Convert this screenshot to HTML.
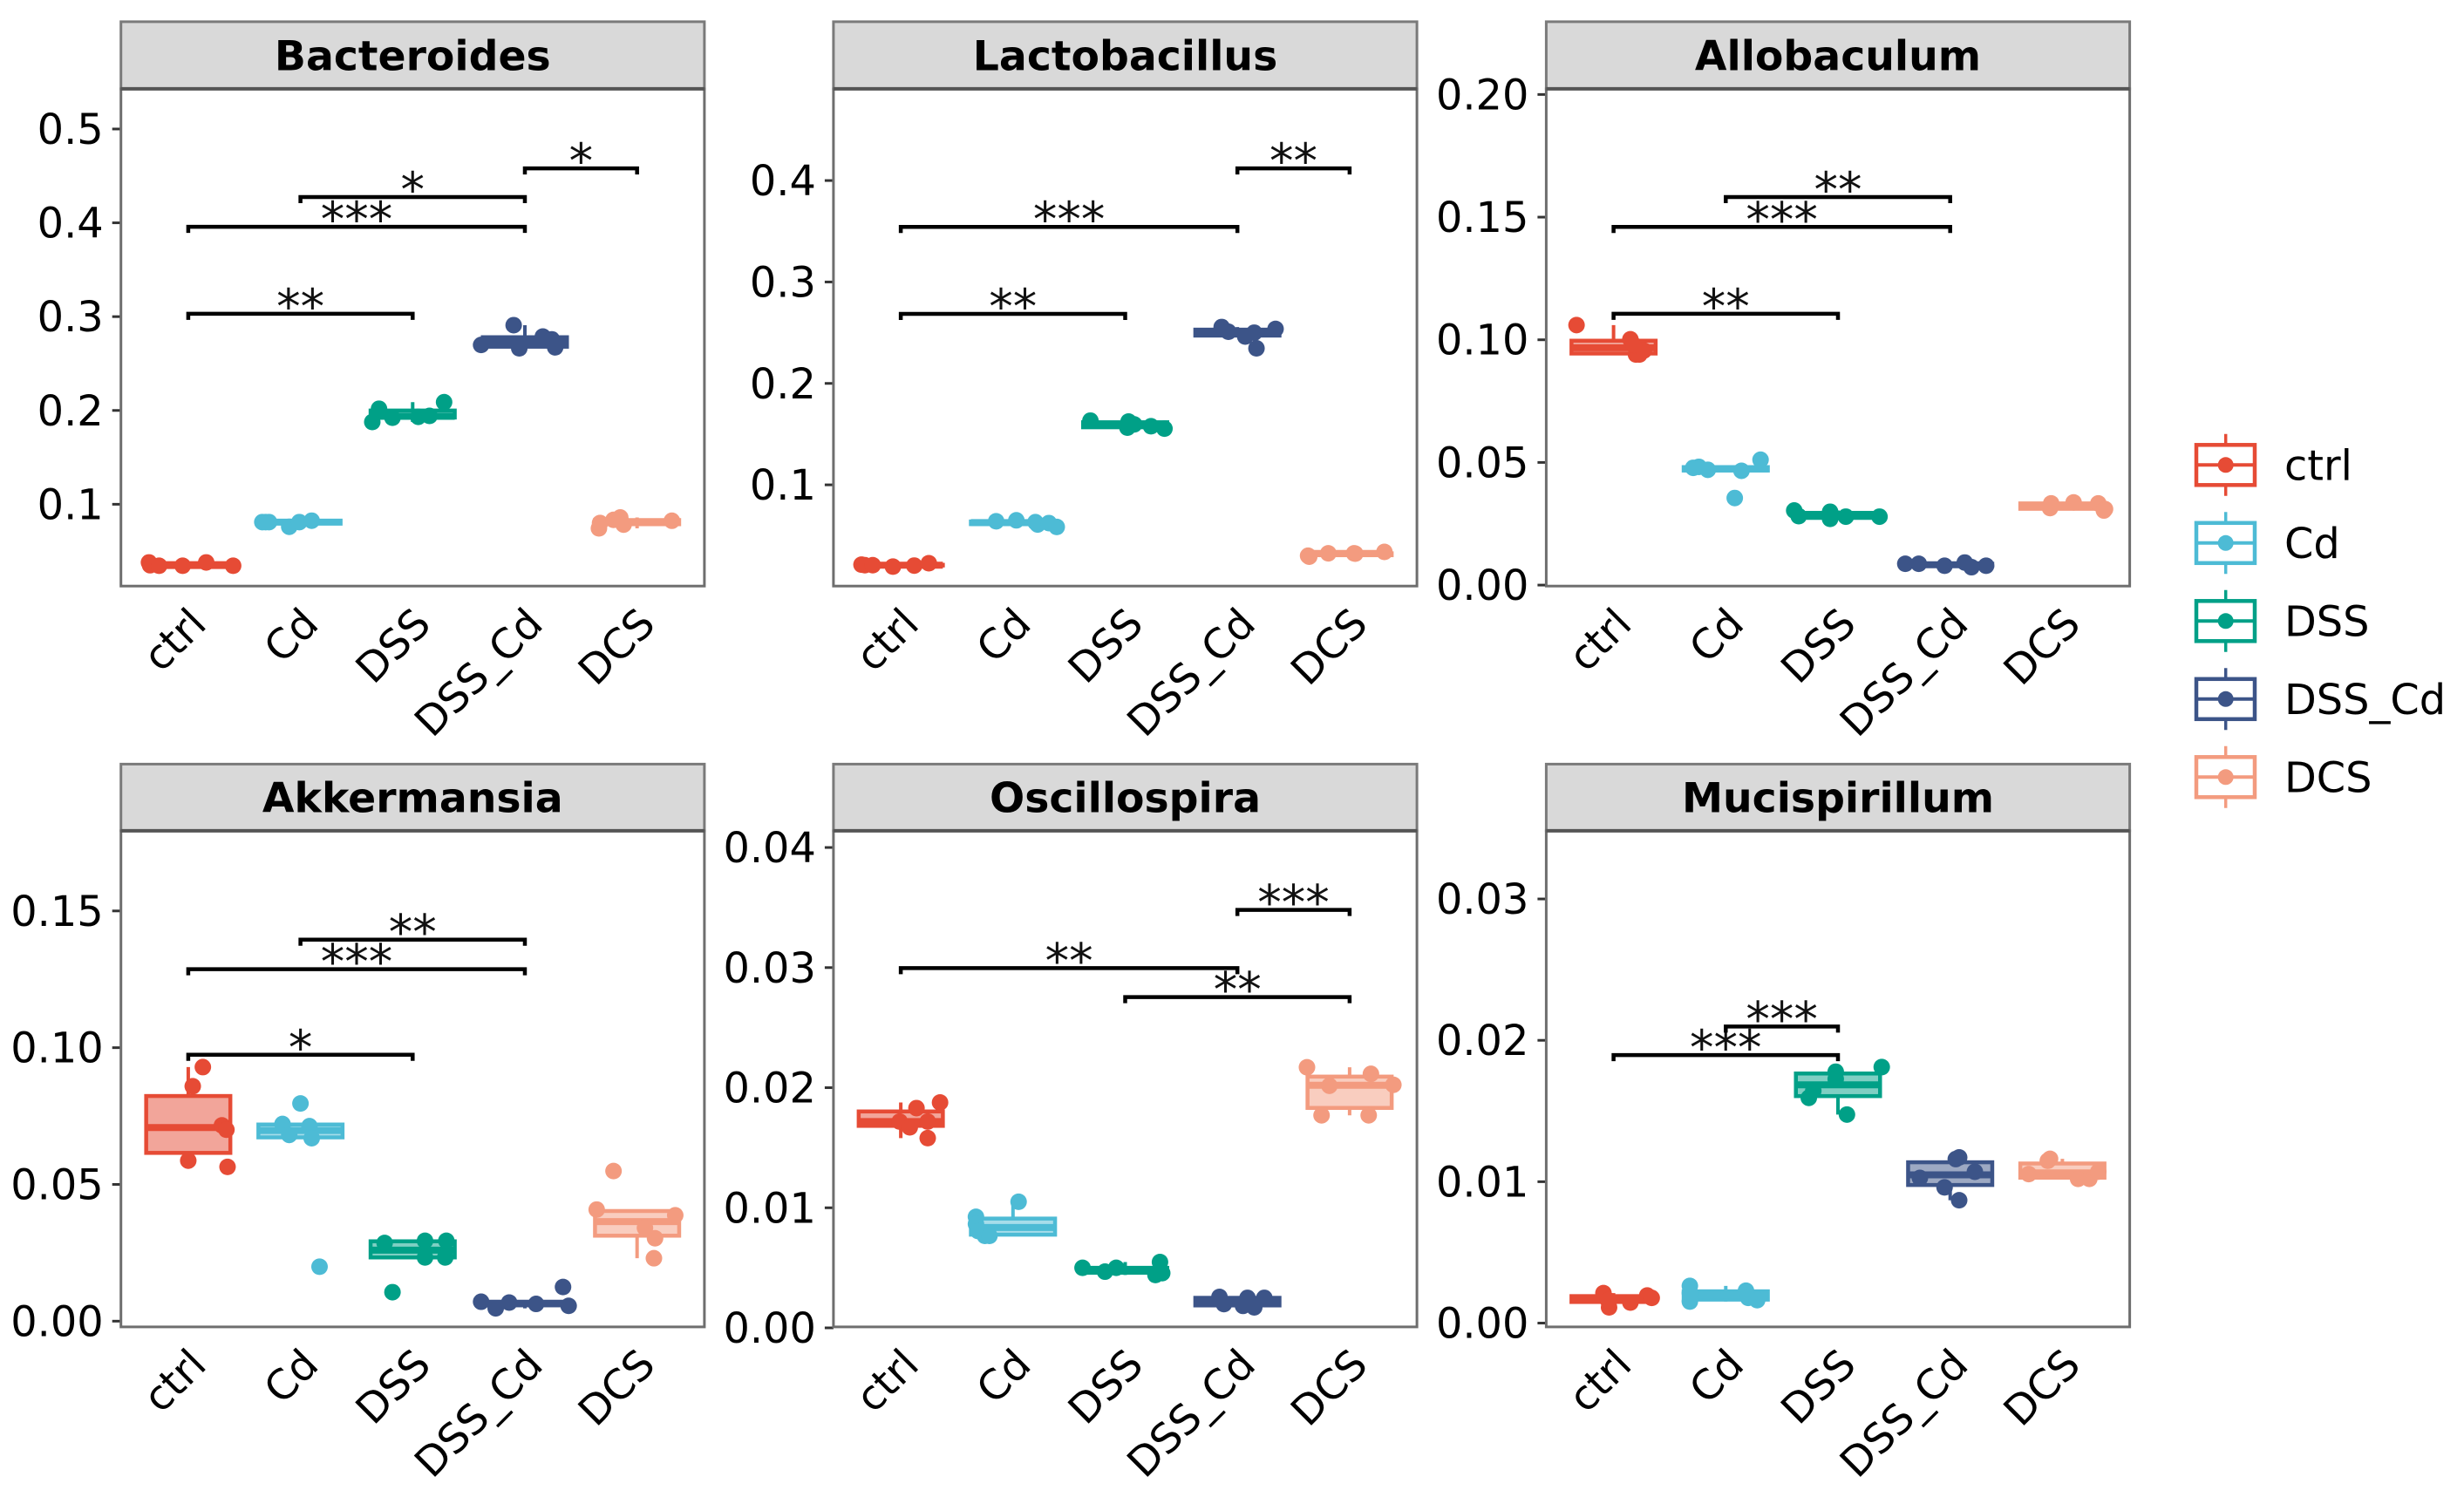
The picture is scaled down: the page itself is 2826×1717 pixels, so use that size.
<!DOCTYPE html>
<html lang="en">
<head>
<meta charset="utf-8">
<title>Genus relative abundance boxplots</title>
<style>
html,body{margin:0;padding:0;background:#fff;}
svg{display:block;font-family:"DejaVu Sans","Liberation Sans",sans-serif;}
</style>
</head>
<body>
<svg id="chart" xmlns="http://www.w3.org/2000/svg" width="2826" height="1717" viewBox="0 0 2826 1717">
<rect x="0" y="0" width="2826" height="1717" fill="#fff"/>
</svg>
<script>
const categories = ["ctrl", "Cd", "DSS", "DSS_Cd", "DCS"];
const groupColors = ["#E64B35", "#4DBBD5", "#00A087", "#3C5488", "#F39B7F"];

const bacteroidesValues = [
  [.038,.035,.0345,.0345,.038,.0345],
  [.081,.081,.081,.076,.081,.0825],
  [.1877,.2018,.1922,.1932,.1942,.2088],
  [.2698,.2909,.2662,.2788,.2758,.2673],
  [.0743,.0800,.0834,.0859,.0783,.0824]
];
const bacteroidesJitter = [
  [-.35,-.34,-.26,-.05,.16,.40],
  [-.34,-.31,-.28,-.10,-.01,.10],
  [-.36,-.30,-.18,.05,.15,.28],
  [-.39,-.10,-.05,.16,.24,.27],
  [-.34,-.33,-.21,-.15,-.12,.31]
];
const bacteroidesTicks = ["0.1","0.2","0.3","0.4","0.5"];
const bacteroidesDomain = [.0128,.5428];
const bacteroidesBrackets = [[0,2,.303,"**"],[0,3,.3957,"***"],[1,3,.4275,"*"],[3,4,.458,"*"]];

const lactobacillusValues = [
  [.0213,.0208,.0208,.0194,.0204,.0227],
  [.0641,.065,.0632,.0609,.0623,.0585],
  [.1633,.1624,.1564,.1578,.1554,.1596],
  [.2556,.2509,.2462,.25,.2346,.2537],
  [.0301,.0292,.0325,.0325,.0322,.0339]
];
const lactobacillusJitter = [
  [-.35,-.32,-.25,-.07,.12,.25],
  [-.15,.03,.20,.22,.32,.39],
  [-.31,.03,.02,.23,.35,.08],
  [-.14,-.08,.07,.15,.17,.34],
  [-.37,-.36,-.19,.04,.05,.31]
];
const lactobacillusTicks = ["0.1","0.2","0.3","0.4"];
const lactobacillusDomain = [.0002,.4904];
const lactobacillusBrackets = [[0,2,.2686,"**"],[0,3,.3543,"***"],[3,4,.412,"**"]];

const allobaculumValues = [
  [.106,.1002,.094,.094,.0956,.0979],
  [.0482,.047,.0355,.0466,.0511,.0478],
  [.0304,.0281,.0299,.027,.0279,.0279],
  [.0087,.0087,.0079,.0092,.0073,.0079],
  [.0333,.0337,.0314,.0333,.031,.0304]
];
const allobaculumJitter = [
  [-.33,.15,.20,.23,.27,.18],
  [-.24,-.16,.08,.14,.31,-.29],
  [-.39,-.35,-.07,-.07,.07,.37],
  [-.40,-.28,-.05,.13,.19,.32],
  [-.10,.10,-.11,.32,.38,.37]
];
const allobaculumTicks = ["0.00","0.05","0.10","0.15","0.20"];
const allobaculumDomain = [-.0004,.2023];
const allobaculumBrackets = [[0,2,.1106,"**"],[0,3,.146,"***"],[1,3,.1582,"**"]];

const akkermansiaValues = [
  [.0929,.0859,.0716,.07,.0587,.0564],
  [.0796,.0721,.0681,.0713,.0669,.0199],
  [.0286,.0106,.0294,.0233,.0294,.0233],
  [.0071,.0047,.0068,.0063,.0125,.0056],
  [.0549,.0408,.0387,.0341,.0303,.023]
];
const akkermansiaJitter = [
  [.13,.04,.30,.34,0,.35],
  [0,-.16,-.10,.08,.10,.17],
  [-.25,-.18,.11,.11,.30,.29],
  [-.39,-.26,-.14,.10,.34,.39],
  [-.21,-.36,.34,.07,.16,.15]
];
const akkermansiaTicks = ["0.00","0.05","0.10","0.15"];
const akkermansiaDomain = [-.0021,.1793];
const akkermansiaBrackets = [[0,2,.0974,"*"],[0,3,.1287,"***"],[1,3,.1395,"**"]];

const oscillospiraValues = [
  [.01877,.0183,.01718,.0167,.01718,.0158],
  [.0105,.00925,.00865,.00806,.00766,.00766],
  [.005,.00468,.005,.00548,.0044,.00456],
  [.00258,.00198,.00183,.0025,.00171,.0025],
  [.0217,.02115,.02016,.02024,.0177,.0177]
];
const oscillospiraJitter = [
  [.35,.14,-.01,.08,.24,.24],
  [.05,-.33,-.33,-.31,-.25,-.21],
  [-.38,-.18,-.08,.31,.27,.33],
  [-.16,-.12,.05,.09,.15,.24],
  [-.38,.19,-.18,.39,-.25,.17]
];
const oscillospiraTicks = ["0.00","0.01","0.02","0.03","0.04"];
const oscillospiraDomain = [.00008,.04139];
const oscillospiraBrackets = [[0,3,.02996,"**"],[2,4,.02754,"**"],[3,4,.0348,"***"]];

const mucispirillumValues = [
  [.00212,.00111,.00145,.00195,.00178,.00162],
  [.00263,.00152,.00229,.00178,.00162,.00212],
  [.01778,.01811,.01593,.01643,.01475,.01727],
  [.01172,.01027,.0107,.0096,.00869,.0116],
  [.01148,.01054,.0102,.0102,.01071,.01162]
];
const mucispirillumJitter = [
  [-.09,-.04,.15,.30,.34,-.05],
  [-.32,-.32,.18,.20,.28,-.32],
  [-.02,.39,-.26,-.22,.08,-.02],
  [.08,-.27,.22,-.05,.08,.05],
  [-.13,-.30,.14,.24,.32,-.11]
];
const mucispirillumTicks = ["0.00","0.01","0.02","0.03"];
const mucispirillumDomain = [-.00027,.03482];
const mucispirillumBrackets = [[0,2,.01896,"***"],[1,2,.02098,"***"]];

const svg = document.getElementById("chart");
const NS = "http://www.w3.org/2000/svg";
const COL_LEFT = [138.7, 955.9, 1773.4];
const PANEL_W = 669.2;
const ROW_STRIP_TOP = [24.9, 876.4];
const ROW_PLOT_TOP = [101.9, 952.9];
const ROW_PLOT_BOTTOM = [672.2, 1521.9];
const FONT = 47.8;
const TITLE_FONT = 47.3;
const X_FONT = 47.2;

function make(tag, parent, attrs) {
  const el = document.createElementNS(NS, tag);
  for (const k in attrs) el.setAttribute(k, attrs[k]);
  parent.appendChild(el);
  return el;
}

function quantile(sorted, p) {
  const h = (sorted.length - 1) * p;
  const lo = Math.floor(h);
  const hi = Math.ceil(h);
  return sorted[lo] + (sorted[hi] - sorted[lo]) * (h - lo);
}

function boxStats(values) {
  const s = values.slice().sort((a, b) => a - b);
  const q1 = quantile(s, .25);
  const med = quantile(s, .5);
  const q3 = quantile(s, .75);
  const iqr = q3 - q1;
  const inside = s.filter(v => v >= q1 - 1.5 * iqr && v <= q3 + 1.5 * iqr);
  return { q1, med, q3, lo: inside[0], hi: inside[inside.length - 1] };
}

function drawPanel(cfg) {
  const left = COL_LEFT[cfg.col];
  const right = left + PANEL_W;
  const stripTop = ROW_STRIP_TOP[cfg.row];
  const top = ROW_PLOT_TOP[cfg.row];
  const bottom = ROW_PLOT_BOTTOM[cfg.row];
  const slug = cfg.title.toLowerCase();
  const xScale = i => left + (0.6 + i) * PANEL_W / 5.2;
  const yScale = v => bottom - (v - cfg.domain[0]) / (cfg.domain[1] - cfg.domain[0]) * (bottom - top);

  const g = make("g", svg, {});
  
  

  const strip = make("rect", g, { x: left, y: stripTop, width: PANEL_W, height: top - stripTop, fill: "#d9d9d9", stroke: "#7a7a7a", "stroke-width": 3 });
  
  

  const title = make("text", g, { x: left + PANEL_W / 2, y: top - 21.5, "text-anchor": "middle", "font-size": TITLE_FONT, "font-weight": "bold", fill: "#000" });
  title.textContent = cfg.title;
  
  

  cfg.ticks.forEach(label => {
    const y = yScale(parseFloat(label));
    const tick = make("line", g, { x1: left - 10, x2: left, y1: y, y2: y, stroke: "#333", "stroke-width": 3 });
    
    
    const text = make("text", g, { x: left - 20, y: y + 17, "text-anchor": "end", "font-size": FONT, fill: "#000" });
    text.textContent = label;
    
    
  });

  categories.forEach((name, i) => {
    const x = xScale(i) + 23;
    const y = bottom + 46;
    const text = make("text", g, { x: x, y: y, "text-anchor": "end", "font-size": X_FONT, fill: "#000", transform: "rotate(-45 " + x + " " + y + ")" });
    text.textContent = name;
    
    
  });

  categories.forEach((name, i) => {
    const color = groupColors[i];
    const cx = xScale(i);
    const halfBox = 0.375 * PANEL_W / 5.2;
    const stats = boxStats(cfg.values[i]);
    const group = make("g", g, {});
    
    

    const whisker = make("path", group, {
      d: "M" + cx + " " + yScale(stats.q3) + "V" + yScale(stats.hi) + "M" + cx + " " + yScale(stats.q1) + "V" + yScale(stats.lo),
      stroke: color, "stroke-width": 4, fill: "none"
    });
    
    

    const box = make("rect", group, {
      x: cx - halfBox, width: halfBox * 2, y: yScale(stats.q3), height: yScale(stats.q1) - yScale(stats.q3),
      fill: color, "fill-opacity": .5, stroke: color, "stroke-width": 4.5
    });
    
    

    const median = make("line", group, {
      x1: cx - halfBox, x2: cx + halfBox, y1: yScale(stats.med), y2: yScale(stats.med), stroke: color, "stroke-width": 8
    });
    
    

    cfg.values[i].forEach((v, j) => {
      const pt = make("circle", group, { cx: xScale(i + cfg.jitter[i][j]), cy: yScale(v), r: 9.5, fill: color });
      
      
    });
  });

  cfg.brackets.forEach(b => {
    const x1 = xScale(b[0]);
    const x2 = xScale(b[1]);
    const y = yScale(b[2]);
    const path = make("path", g, { d: "M" + x1 + " " + (y + 7) + "V" + y + "H" + x2 + "V" + (y + 7), fill: "none", stroke: "#000", "stroke-width": 4.5 });
    
    
    const star = make("text", g, { x: (x1 + x2) / 2, y: y + 11, "text-anchor": "middle", "font-size": 55, fill: "#111" });
    star.textContent = b[3];
    
    
  });

  const frame = make("rect", g, { x: left, y: top, width: PANEL_W, height: bottom - top, fill: "none", stroke: "#6e6e6e", "stroke-width": 3 });
  
  

  const divider = make("line", g, { x1: left, x2: right, y1: top, y2: top, stroke: "#555", "stroke-width": 4 });
  
  
}

drawPanel({ title: "Bacteroides", col: 0, row: 0, values: bacteroidesValues, jitter: bacteroidesJitter, ticks: bacteroidesTicks, domain: bacteroidesDomain, brackets: bacteroidesBrackets });
drawPanel({ title: "Lactobacillus", col: 1, row: 0, values: lactobacillusValues, jitter: lactobacillusJitter, ticks: lactobacillusTicks, domain: lactobacillusDomain, brackets: lactobacillusBrackets });
drawPanel({ title: "Allobaculum", col: 2, row: 0, values: allobaculumValues, jitter: allobaculumJitter, ticks: allobaculumTicks, domain: allobaculumDomain, brackets: allobaculumBrackets });
drawPanel({ title: "Akkermansia", col: 0, row: 1, values: akkermansiaValues, jitter: akkermansiaJitter, ticks: akkermansiaTicks, domain: akkermansiaDomain, brackets: akkermansiaBrackets });
drawPanel({ title: "Oscillospira", col: 1, row: 1, values: oscillospiraValues, jitter: oscillospiraJitter, ticks: oscillospiraTicks, domain: oscillospiraDomain, brackets: oscillospiraBrackets });
drawPanel({ title: "Mucispirillum", col: 2, row: 1, values: mucispirillumValues, jitter: mucispirillumJitter, ticks: mucispirillumTicks, domain: mucispirillumDomain, brackets: mucispirillumBrackets });

const legend = make("g", svg, {});


categories.forEach((name, i) => {
  const cy = 533.3 + i * 89.5;
  const color = groupColors[i];
  const entry = make("g", legend, {});
  
  
  const whisker = make("line", entry, { x1: 2552.7, x2: 2552.7, y1: cy - 35.5, y2: cy + 35.5, stroke: color, "stroke-width": 3.5 });
  
  
  const box = make("rect", entry, { x: 2519, y: cy - 23, width: 67, height: 46, fill: "#fff", stroke: color, "stroke-width": 4.5 });
  
  
  const median = make("line", entry, { x1: 2519, x2: 2586, y1: cy, y2: cy, stroke: color, "stroke-width": 4 });
  
  
  const dot = make("circle", entry, { cx: 2552.7, cy: cy, r: 9, fill: color });
  
  
  const label = make("text", entry, { x: 2620, y: cy + 17, "font-size": FONT, fill: "#000" });
  label.textContent = name;
  
  
});
</script>
</body>
</html>
